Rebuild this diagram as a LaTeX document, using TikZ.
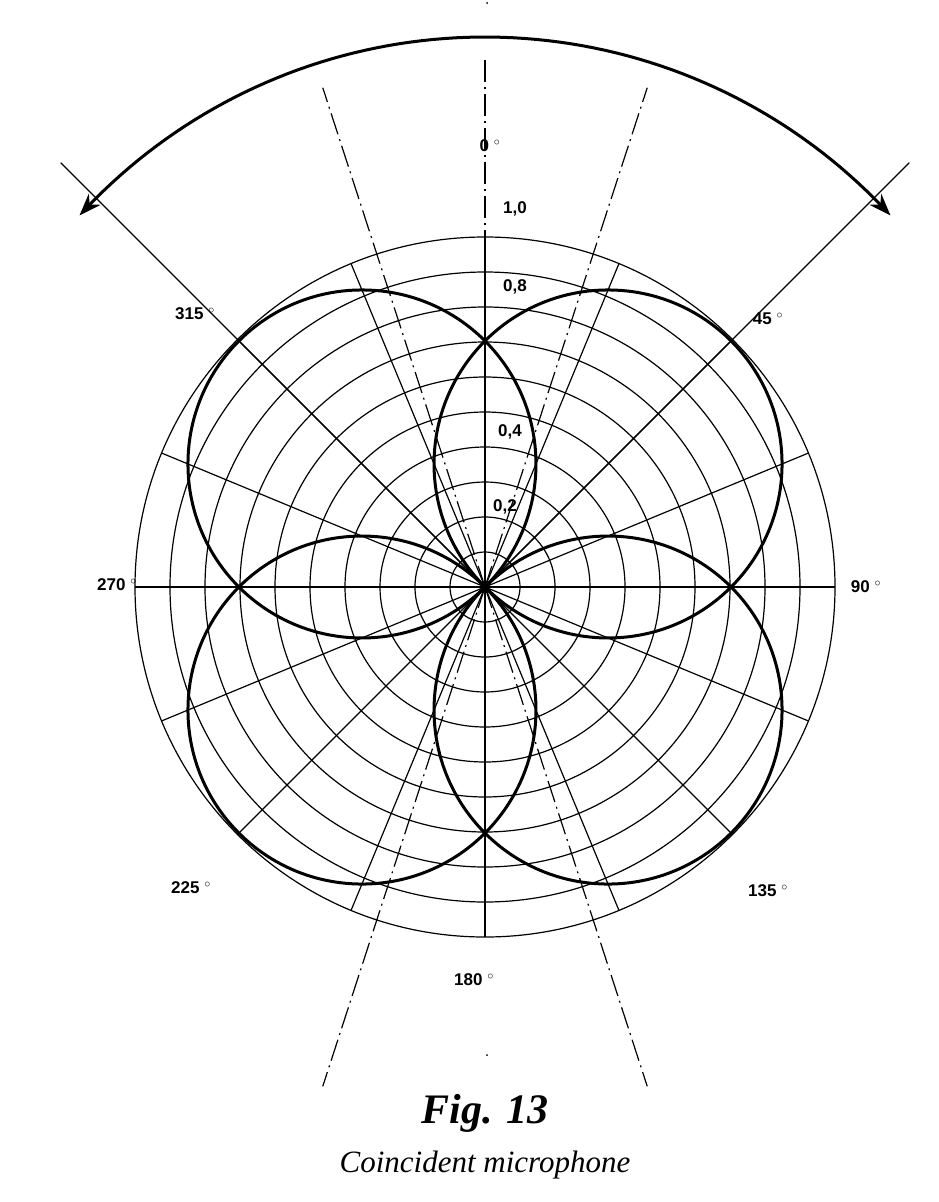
\documentclass[tikz,border=0pt]{standalone}
\usepackage{fontspec}
\setmainfont{Liberation Serif}
\newfontfamily\lblfont{Liberation Sans}
\usetikzlibrary{arrows.meta}
\begin{document}
\begin{tikzpicture}[x=1pt,y=-1pt,
  lbl/.style={font=\lblfont\bfseries\fontsize{17}{17}\selectfont, inner sep=1pt},
  grid/.style={line width=1.2pt},
  lobe/.style={line width=3pt},
  dd/.style={line width=1.2pt, dash pattern=on 22pt off 5pt on 2pt off 5pt}]
\useasboundingbox (0,0) rectangle (938,1202);
\coordinate (O) at (485,587);
% rings
\foreach \r in {35,70,...,350} \draw[grid] (O) circle[radius=\r];
% radial lines
\foreach \a in {0,22.5,...,337.5}
  \draw[grid] (O) -- ({485+350*sin(\a)},{587-350*cos(\a)});
% 45 deg extension lines
\draw[grid] (O) -- ({485+600*sin(45)},{587-600*cos(45)});
\draw[grid] (O) -- ({485-600*sin(45)},{587-600*cos(45)});
% dash-dot lines
\foreach \a in {18,-18,162,-162}
  \draw[dd] (O) -- ({485+525*sin(\a)},{587-525*cos(\a)});
\draw[dd] (485,60) -- (485,237);
% lobes
\foreach \a in {45,135,225,315}
  \draw[lobe] ({485+174*sin(\a)},{587-174*cos(\a)}) circle[radius=174];
% arrow arc
\draw[line width=3pt, {Stealth[length=22pt,width=16pt]}-{Stealth[length=22pt,width=16pt]}]
  plot[domain=-47.5:47.5, samples=80] ({485+550*sin(\x)},{587-550*cos(\x)});
% dots
\fill (487,3) circle[radius=1];
\fill (487,1055) circle[radius=1];
% labels
\node[lbl] (l0) at (490,146) {0 $^\circ$};
\node[lbl] (l45) at (768,319) {45 $^\circ$};
\node[lbl] (l90) at (866,587) {90 $^\circ$};
\node[lbl] (l135) at (768,891) {135 $^\circ$};
\node[lbl] (l180) at (474,980) {180 $^\circ$};
\node[lbl] (l225) at (191,888) {225 $^\circ$};
\node[lbl] (l270) at (117,585) {270 $^\circ$};
\node[lbl] (l315) at (195,314) {315 $^\circ$};
\node[lbl] (r10) at (515,209) {1,0};
\node[lbl] (r08) at (515,287) {0,8};
\node[lbl] (r04) at (510,432) {0,4};
\node[lbl] (r02) at (505,507) {0,2};
% caption
\node[font=\bfseries\itshape\fontsize{42}{42}\selectfont] (fig) at (485,1113) {Fig. 13};
\node[font=\itshape\fontsize{31}{31}\selectfont] (cap) at (485,1165) {Coincident microphone};
\end{tikzpicture}
\end{document}
